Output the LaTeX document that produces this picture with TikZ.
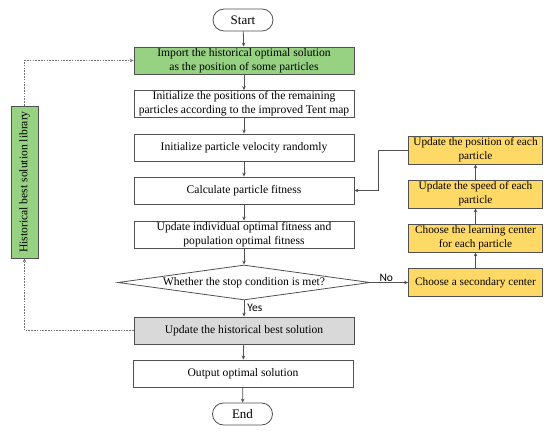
\documentclass[tikz,border=0pt]{standalone}
\usepackage{fontspec}
\setmainfont{Liberation Serif}
\newfontfamily\labfont{Carlito}
\usetikzlibrary{shapes.geometric,arrows.meta}
\definecolor{boxgreen}{RGB}{150,210,130}
\definecolor{boxyellow}{RGB}{255,217,102}
\definecolor{boxgrey}{RGB}{217,217,217}
\definecolor{edgegrey}{RGB}{80,80,80}
\tikzset{
  box/.style={draw=edgegrey, line width=0.8bp, rectangle, minimum width=220bp, minimum height=27bp,
    inner sep=0.5bp, align=center, font=\fontsize{11.6bp}{13.8bp}\selectfont},
  ybox/.style={box, fill=boxyellow, minimum width=134bp, minimum height=28bp, font=\fontsize{11.3bp}{13.8bp}\selectfont},
  term/.style={draw=edgegrey, line width=0.8bp, rectangle, rounded corners=11bp, minimum width=60bp,
    minimum height=22bp, inner sep=0bp, font=\fontsize{13bp}{15bp}\selectfont},
  cond/.style={draw=edgegrey, line width=0.8bp, diamond, aspect=7.2, minimum width=252bp, minimum height=35bp,
    inner sep=0bp, font=\fontsize{11.6bp}{13.8bp}\selectfont},
  arr/.style={draw=edgegrey, line width=0.8bp, -{Stealth[length=4bp,width=3.5bp]}},
  darr/.style={draw=edgegrey!80, line width=0.8bp, dash pattern=on 1.6bp off 1.2bp, -{Stealth[length=4bp,width=3.5bp]}},
  lab/.style={font=\labfont\fontsize{11.5bp}{13bp}\selectfont, inner sep=0bp}
}
\begin{document}
\begin{tikzpicture}[x=1bp,y=-1bp]
\useasboundingbox (0,0) rectangle (550,434);
\node[term] (start) at (243,20) {Start};
\node[box, fill=boxgreen] (import) at (244,60.5) {Import the historical optimal solution\\as the position of some particles};
\node[box] (initpos) at (244,104) {Initialize the positions of the remaining\\particles according to the improved Tent map};
\node[box] (initvel) at (244,147.5) {Initialize particle velocity randomly};
\node[box] (calc) at (244,190.5) {Calculate particle fitness};
\node[box] (updind) at (244,234.5) {Update individual optimal fitness and\\population optimal fitness};
\node[cond] (cond) at (244,282.5) {Whether the stop condition is met?};
\node[box, fill=boxgrey] (updhist) at (244,330.5) {Update the historical best solution};
\node[box] (output) at (243,373.5) {Output optimal solution};
\node[term] (end) at (242.5,414) {End};
\node[box, fill=boxgreen, minimum width=152bp, minimum height=27bp, rotate=90] (lib) at (24.5,182) {Historical best solution library};
\node[ybox] (pos) at (475.5,150) {Update the position of each\\particle};
\node[ybox] (speed) at (475.5,194) {Update the speed of each\\particle};
\node[ybox] (learn) at (475.5,238) {Choose the learning center\\for each particle};
\node[ybox] (sec) at (475.5,282.5) {Choose a secondary center};
\coordinate (fbA) at (378,150);
\coordinate (fbB) at (378,190.5);
\coordinate (dtop) at (24.5,60.5);
\coordinate (dbot) at (24.5,330.5);
\draw[arr] (start) -- (import);
\draw[arr] (import) -- (initpos);
\draw[arr] (initpos) -- (initvel);
\draw[arr] (initvel) -- (calc);
\draw[arr] (calc) -- (updind);
\draw[arr] (updind) -- (cond);
\draw[arr] (cond) -- node[lab, right, xshift=3bp, yshift=1bp] {Yes} (updhist);
\draw[arr] (updhist) -- (output);
\draw[arr] (output) -- (end);
\draw[arr] (cond.east) -- node[lab, above, yshift=1bp, xshift=-3bp] {No} (sec.west);
\draw[arr] (sec) -- (learn);
\draw[arr] (learn) -- (speed);
\draw[arr] (speed) -- (pos);
\draw[arr] (pos.west) -- (fbA) -- (fbB) -- (calc.east);
\draw[darr] (lib.east) -- (dtop) -- (import.west);
\draw[darr] (updhist.west) -- (dbot) -- (lib.west);
\end{tikzpicture}
\end{document}
